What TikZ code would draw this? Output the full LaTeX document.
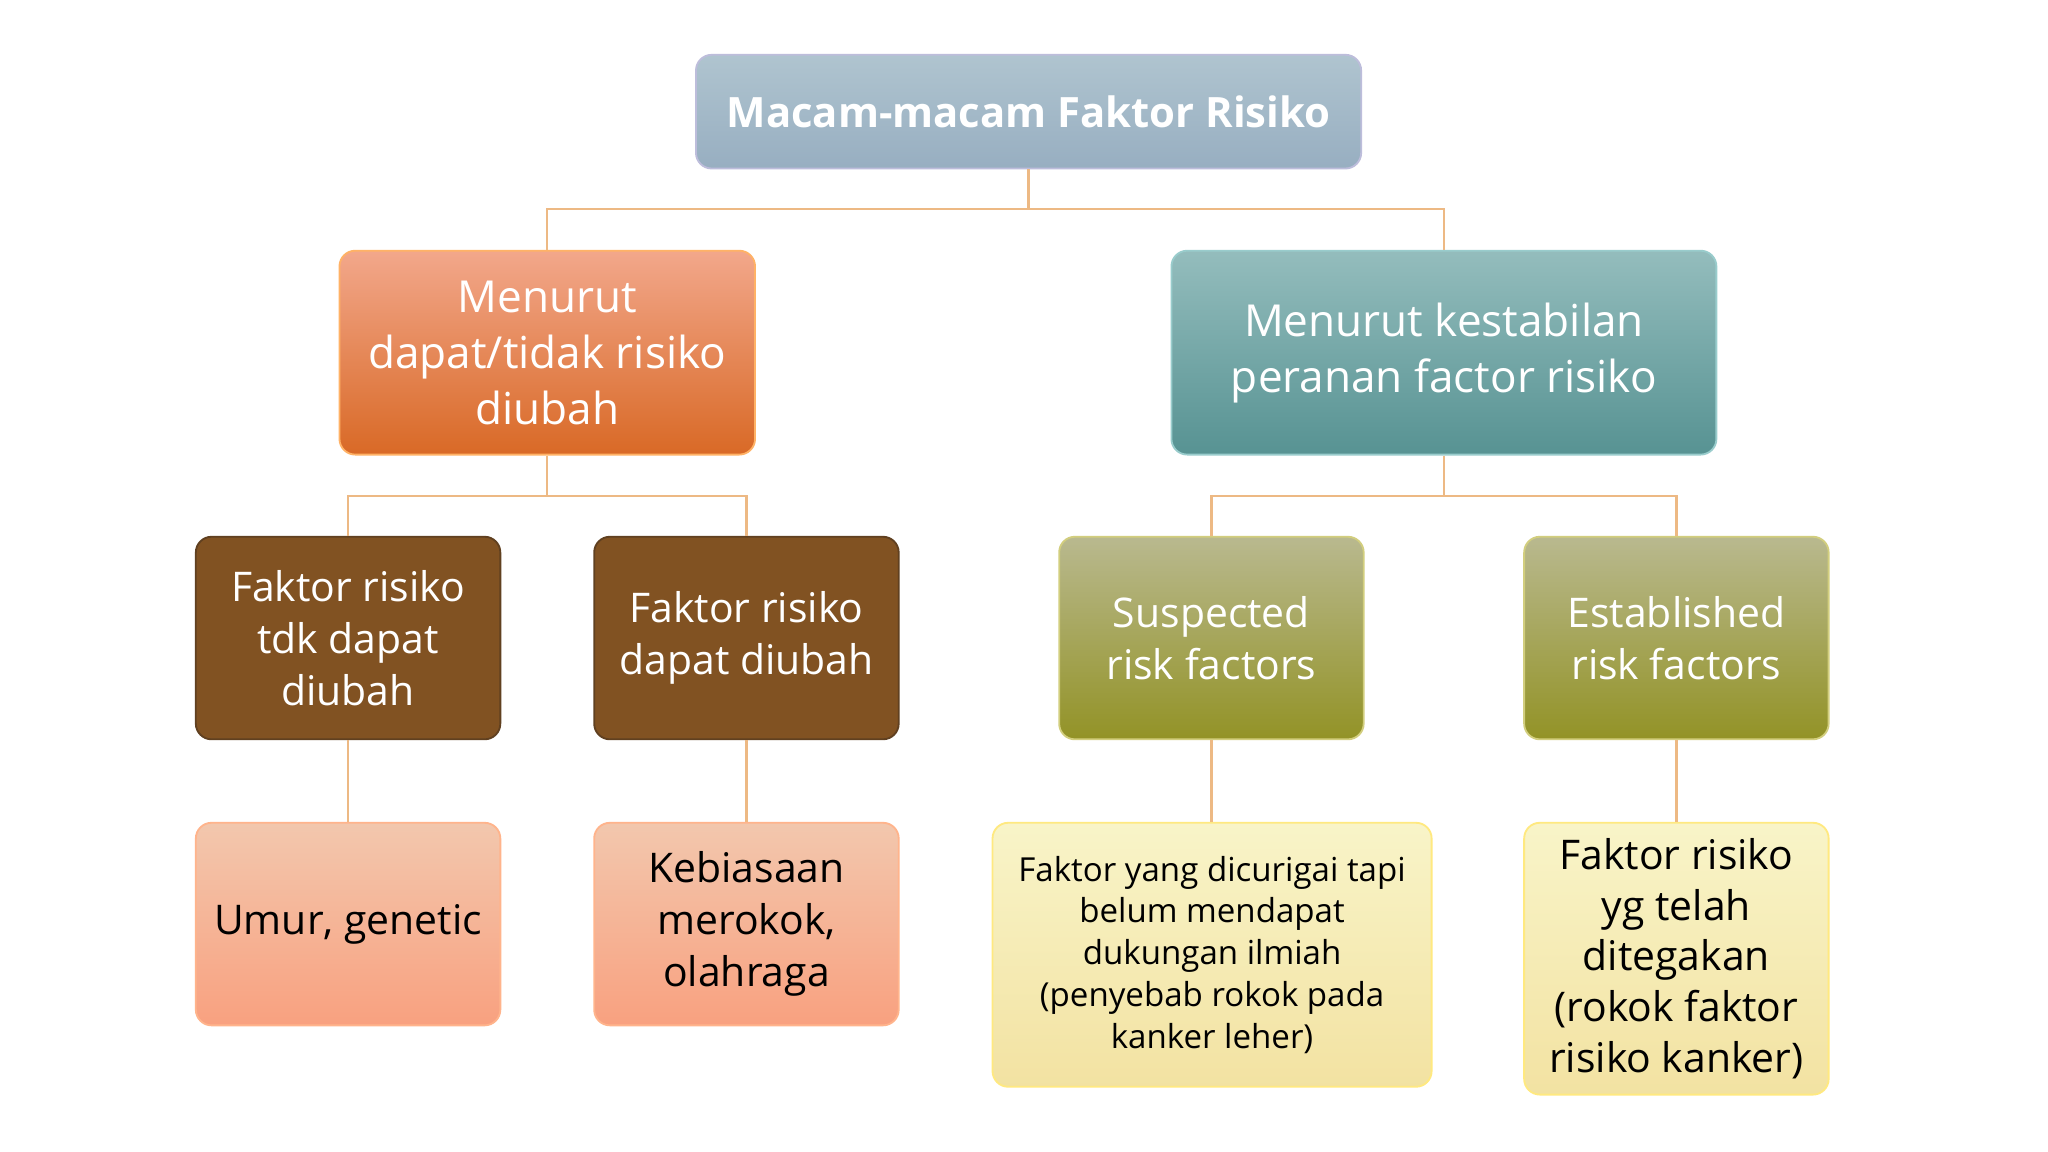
\documentclass[tikz,border=0pt]{standalone}
\usepackage{fontspec}
\setmainfont{Open Sans}
\begin{document}
\begin{tikzpicture}[x=0.01cm,y=-0.01cm,
  box/.style={rounded corners=0.12cm, align=center, text=white, inner sep=2pt},
  link/.style={draw=orange!50!brown!55, line width=0.5pt},
  topbox/.style={box, top color=blue!35!cyan!25!gray!50, bottom color=blue!45!cyan!25!gray!65, draw=blue!30!gray!40},
  orangebox/.style={box, top color=orange!55!red!45!white!90!gray, bottom color=orange!75!red!70!gray, draw=orange!60},
  tealbox/.style={box, top color=teal!40!white!80!gray, bottom color=teal!55!gray!85, draw=teal!40},
  brownbox/.style={box, fill=brown!60!black!90!orange, draw=brown!50!black},
  olivebox/.style={box, top color=olive!30!gray!55, bottom color=olive!50!gray!85, draw=olive!40},
  pinkbox/.style={box, text=black, top color=red!25!orange!30!white!90!gray, bottom color=red!45!orange!50!white!95!gray, draw=red!30!orange!45},
  tanbox/.style={box, text=black, top color=orange!18!yellow!20!white!95!gray, bottom color=orange!40!yellow!35!white!90!gray, draw=orange!35!yellow!50}]
  \useasboundingbox (0,0) rectangle (1568,882);
  \fill[white] (0,0) rectangle (1568,882);

  % level 0
  \node (top) [topbox, minimum width=5.09cm, minimum height=0.87cm, font=\fontsize{9.1}{11}\selectfont\bfseries] at (787.5,85.5)
    {Macam-macam Faktor Risiko};

  % level 1
  \node (dapat) [orangebox, minimum width=3.18cm, minimum height=1.56cm, font=\fontsize{9.6}{12.2}\selectfont] at (419,270)
    {Menurut\\dapat/tidak risiko\\diubah};
  \node (stabil) [tealbox, minimum width=4.17cm, minimum height=1.56cm, font=\fontsize{9.6}{12.2}\selectfont] at (1105.5,270)
    {Menurut kestabilan\\peranan factor risiko};

  % level 2
  \node (tdk) [brownbox, minimum width=2.33cm, minimum height=1.55cm, font=\fontsize{8.9}{11.3}\selectfont] at (266.5,488.5)
    {Faktor risiko\\tdk dapat\\diubah};
  \node (bisa) [brownbox, minimum width=2.33cm, minimum height=1.55cm, font=\fontsize{8.9}{11.3}\selectfont] at (571.5,488.5)
    {Faktor risiko\\dapat diubah};
  \node (susp) [olivebox, minimum width=2.33cm, minimum height=1.55cm, font=\fontsize{8.9}{11.3}\selectfont] at (927.5,488.5)
    {Suspected\\risk factors};
  \node (estab) [olivebox, minimum width=2.33cm, minimum height=1.55cm, font=\fontsize{8.9}{11.3}\selectfont] at (1283.5,488.5)
    {Established\\risk factors};

  % level 3
  \node (umur) [pinkbox, minimum width=2.33cm, minimum height=1.55cm, font=\fontsize{8.9}{11.3}\selectfont] at (266.5,707.5)
    {Umur, genetic};
  \node (kebiasaan) [pinkbox, minimum width=2.33cm, minimum height=1.55cm, font=\fontsize{8.9}{11.3}\selectfont] at (571.5,707.5)
    {Kebiasaan\\merokok,\\olahraga};
  \node (curiga) [tanbox, minimum width=3.36cm, minimum height=2.02cm, font=\fontsize{7.2}{9.1}\selectfont] at (928,731)
    {Faktor yang dicurigai tapi\\belum mendapat\\dukungan ilmiah\\(penyebab rokok pada\\kanker leher)};
  \node (tegak) [tanbox, minimum width=2.33cm, minimum height=2.08cm, font=\fontsize{8.9}{11}\selectfont] at (1283.5,734)
    {Faktor risiko\\yg telah\\ditegakan\\(rokok faktor\\risiko kanker)};

  % connectors
  \draw[link] (top.south) |- (419,160) -- (dapat.north);
  \draw[link] (top.south) |- (1105.5,160) -- (stabil.north);
  \draw[link] (dapat.south) |- (266.5,380) -- (tdk.north);
  \draw[link] (dapat.south) |- (571.5,380) -- (bisa.north);
  \draw[link] (stabil.south) |- (927.5,380) -- (susp.north);
  \draw[link] (stabil.south) |- (1283.5,380) -- (estab.north);
  \draw[link] (tdk) -- (umur);
  \draw[link] (bisa) -- (kebiasaan);
  \draw[link] (susp.south) -- (susp.south |- curiga.north);
  \draw[link] (estab) -- (tegak);
\end{tikzpicture}
\end{document}
